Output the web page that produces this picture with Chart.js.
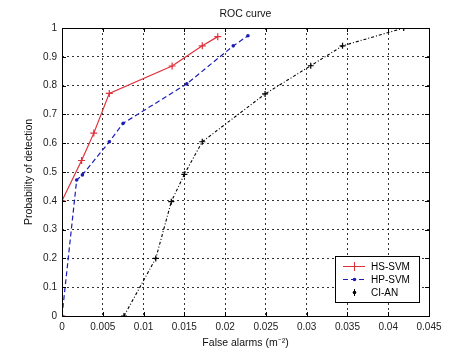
<!DOCTYPE html>
<html>
<head>
<meta charset="utf-8">
<script src="https://cdn.jsdelivr.net/npm/chart.js@4/dist/chart.umd.min.js"></script>
<style>
html,body{margin:0;padding:0;background:#fff;}
#wrap{width:474px;height:357px;position:relative;}
</style>
</head>
<body>
<div id="wrap"><canvas id="c" width="474" height="357"></canvas></div>
<script>
// ---- data ----
const titleText = "ROC curve";
const xTitle = "False alarms (m\u207B\u00B2)";
const yTitle = "Probability of detection";
const seriesNames = ["HS-SVM", "HP-SVM", "CI-AN"];
const hsX = [0, 0, 0.0024, 0.0039, 0.0058, 0.0135, 0.0172, 0.0191];
const hsY = [0, 0.40, 0.54, 0.635, 0.773, 0.868, 0.938, 0.970];
const hpX = [0, 0.0018, 0.0025, 0.0058, 0.0075, 0.0153, 0.0210, 0.0228];
const hpY = [0, 0.472, 0.49, 0.605, 0.669, 0.806, 0.938, 0.973];
const ciX = [0.0076, 0.0115, 0.0134, 0.0150, 0.0172, 0.0249, 0.0305, 0.0344, 0.0419];
const ciY = [0, 0.20, 0.397, 0.492, 0.605, 0.771, 0.869, 0.938, 1.0];
const xTickLabels = ["0","0.005","0.01","0.015","0.02","0.025","0.03","0.035","0.04","0.045"];
const yTickLabels = ["0","0.1","0.2","0.3","0.4","0.5","0.6","0.7","0.8","0.9","1"];

const FONT = "'Liberation Sans', Arial, sans-serif";
const pts = (xs, ys) => xs.map((x, i) => ({x: x, y: ys[i]}));

const boxPlugin = {
  id: 'matlabBox',
  afterDatasetsDraw(chart) {
    const {ctx, chartArea: a, scales} = chart;
    ctx.save();
    ctx.strokeStyle = '#000';
    ctx.lineWidth = 1;
    ctx.setLineDash([]);
    const xs = scales.x, ys = scales.y;
    xs.ticks.forEach(t => {
      const px = Math.round(xs.getPixelForValue(t.value)) + 0.5;
      ctx.beginPath();
      ctx.moveTo(px, a.bottom); ctx.lineTo(px, a.bottom - 4);
      ctx.moveTo(px, a.top); ctx.lineTo(px, a.top + 4);
      ctx.stroke();
    });
    ys.ticks.forEach(t => {
      const py = Math.round(ys.getPixelForValue(t.value)) + 0.5;
      ctx.beginPath();
      ctx.moveTo(a.left, py); ctx.lineTo(a.left + 4, py);
      ctx.moveTo(a.right, py); ctx.lineTo(a.right - 4, py);
      ctx.stroke();
    });
    ctx.strokeRect(Math.round(a.left) + 0.5, Math.round(a.top) + 0.5,
                   Math.round(a.right - a.left), Math.round(a.bottom - a.top));
    // legend
    const lx = Math.round(a.right) - 94, ly = Math.round(a.bottom) - 60, lw = 84, lh = 46;
    ctx.fillStyle = '#fff';
    ctx.fillRect(lx, ly, lw, lh);
    ctx.strokeRect(lx + 0.5, ly + 0.5, lw, lh);
    ctx.font = '10px ' + FONT;
    ctx.textBaseline = 'middle';
    chart.data.datasets.forEach((ds, i) => {
      const yy = ly + 10 + i * 13;
      ctx.strokeStyle = ds.borderColor;
      ctx.fillStyle = ds.borderColor;
      if (i < 2) {
        ctx.setLineDash(ds.borderDash || []);
        ctx.beginPath();
        ctx.moveTo(lx + 8, yy + 0.5); ctx.lineTo(lx + 30, yy + 0.5);
        ctx.stroke();
        ctx.setLineDash([]);
      }
      if (i === 0) {
        ctx.beginPath();
        ctx.moveTo(lx + 19.5, yy - 4); ctx.lineTo(lx + 19.5, yy + 5);
        ctx.stroke();
      } else {
        ctx.beginPath();
        ctx.arc(lx + 19.5, yy + 0.5, 1.8, 0, Math.PI * 2);
        ctx.fill();
        if (i === 2) {
          ctx.beginPath();
          ctx.moveTo(lx + 19.5, yy - 3); ctx.lineTo(lx + 19.5, yy + 4);
          ctx.stroke();
        }
      }
      ctx.fillStyle = '#000';
      ctx.textAlign = 'left';
      ctx.fillText(ds.label, lx + 36, yy + 1);
    });
    // titles
    ctx.fillStyle = '#111';
    ctx.textAlign = 'center';
    ctx.font = '10.5px ' + FONT;
    const cx = (a.left + a.right) / 2;
    ctx.fillText(titleText, cx, a.top - 14);
    ctx.fillText(xTitle, cx, a.bottom + 27);
    ctx.translate(29, (a.top + a.bottom) / 2);
    ctx.rotate(-Math.PI / 2);
    ctx.fillText(yTitle, 0, 0);
    ctx.restore();
  }
};

new Chart(document.getElementById('c'), {
  type: 'scatter',
  data: {
    datasets: [
      {label: seriesNames[0], data: pts(hsX, hsY), showLine: true,
       borderColor: '#e0303a', backgroundColor: '#e0303a', borderWidth: 1.2,
       pointStyle: 'cross', pointRadius: 3.5, pointBorderWidth: 1.2},
      {label: seriesNames[1], data: pts(hpX, hpY), showLine: true,
       borderColor: '#1c1cb8', backgroundColor: '#1c1cb8', borderWidth: 1.2,
       borderDash: [5, 3], pointStyle: 'circle', pointRadius: 1.8, pointBorderWidth: 0},
      {label: seriesNames[2], data: pts(ciX, ciY), showLine: true,
       borderColor: '#000', backgroundColor: '#000', borderWidth: 1.1,
       borderDash: [3, 2, 1, 2],
       pointStyle: 'cross', pointRadius: 3, pointBorderWidth: 1.2}
    ]
  },
  options: {
    responsive: false,
    animation: false,
    devicePixelRatio: 1,
    layout: {padding: {top: 28, right: 45, left: 0, bottom: 0}},
    plugins: {legend: {display: false}, tooltip: {enabled: false}, title: {display: false}},
    scales: {
      x: {
        type: 'linear', min: 0, max: 0.045,
        afterBuildTicks: (s) => { s.ticks = xTickLabels.map(v => ({value: parseFloat(v)})); },
        afterFit: (s) => { s.height = 41; },
        border: {display: false, dash: [2, 3]},
        grid: {color: '#000', lineWidth: 0.8, drawTicks: false, tickLength: 0},
        ticks: {color: '#222', font: {size: 10, family: FONT}, padding: 5, maxRotation: 0,
                callback: (v, i) => xTickLabels[i]}
      },
      y: {
        type: 'linear', min: 0, max: 1,
        afterBuildTicks: (s) => { s.ticks = yTickLabels.map(v => ({value: parseFloat(v)})); },
        afterFit: (s) => { s.width = 62; },
        border: {display: false, dash: [2, 3]},
        grid: {color: '#000', lineWidth: 0.8, drawTicks: false, tickLength: 0},
        ticks: {color: '#222', font: {size: 10, family: FONT}, padding: 5,
                callback: (v, i) => yTickLabels[i]}
      }
    }
  },
  plugins: [boxPlugin]
});
</script>
</body>
</html>
